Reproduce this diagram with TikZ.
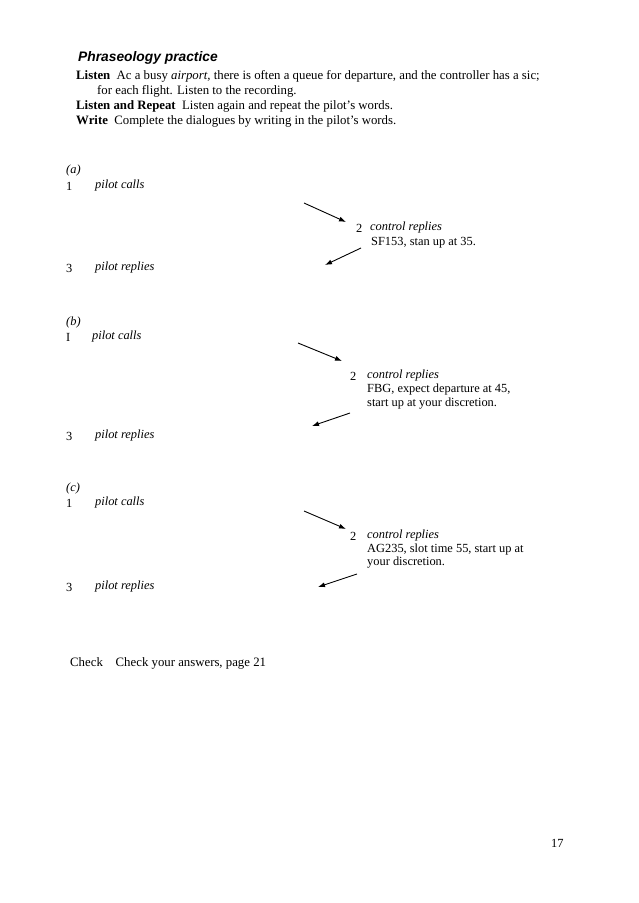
\documentclass[tikz,border=0pt]{standalone}
\usepackage{fontspec}
\usetikzlibrary{arrows.meta}
\setmainfont{Liberation Serif}
\newfontfamily\titlefont{Liberation Sans}
\begin{document}
\begin{tikzpicture}[x=1pt,y=-1pt,
  t/.style={anchor=west,inner sep=0pt,font=\fontsize{12.8}{15}\selectfont},
  s/.style={anchor=west,inner sep=0pt,font=\fontsize{12.4}{15}\selectfont},
  ar/.style={-{Latex[length=7pt,width=5pt]},line width=0.9pt}]
\useasboundingbox (0,0) rectangle (638,903);
\node[anchor=west,inner sep=0pt,font=\titlefont\fontsize{13.8}{16}\selectfont\bfseries\itshape] (title) at (78,58) {Phraseology practice};
\node[t] (l1) at (76,76) {\textbf{Listen}\enspace Ac a busy \textit{airport,} there is often a queue for departure, and the controller has a sic;};
\node[t] (l2) at (97,91) {for each flight. Listen to the recording.};
\node[t] (l3) at (76,106) {\textbf{Listen and Repeat}\enspace Listen again and repeat the pilot's words.};
\node[t] (l4) at (76,121) {\textbf{Write}\enspace Complete the dialogues by writing in the pilot's words.};
% (a)
\node[s] (a) at (66,171) {\textit{(a)}};
\node[s] (a1n) at (66,186) {1};
\node[s] (a1) at (95,186) {\textit{pilot calls}};
\node[s] (a2n) at (356,228) {2};
\node[s] (a2) at (370,228) {\textit{control replies}};
\node[s] (a2b) at (371,243) {SF153, stan up at 35.};
\node[s] (a3n) at (66,268) {3};
\node[s] (a3) at (95,268) {\textit{pilot replies}};
\coordinate (ap1) at (304,203); \coordinate (ap2) at (346,222);
\coordinate (ap3) at (361,248); \coordinate (ap4) at (325,265);
\draw[ar] (ap1) -- (ap2); \draw[ar] (ap3) -- (ap4);
% (b)
\node[s] (b) at (66,323) {\textit{(b)}};
\node[s] (b1n) at (66,337) {I};
\node[s] (b1) at (92,337) {\textit{pilot calls}};
\node[s] (b2n) at (350,376) {2};
\node[s] (b2) at (367,376) {\textit{control replies}};
\node[s] (b2b) at (367,390) {FBG, expect departure at 45,};
\node[s] (b2c) at (367,404) {start up at your discretion.};
\node[s] (b3n) at (66,436) {3};
\node[s] (b3) at (95,436) {\textit{pilot replies}};
\coordinate (bp1) at (298,343); \coordinate (bp2) at (342,361);
\coordinate (bp3) at (350,413); \coordinate (bp4) at (312,426);
\draw[ar] (bp1) -- (bp2); \draw[ar] (bp3) -- (bp4);
% (c)
\node[s] (c) at (66,489) {\textit{(c)}};
\node[s] (c1n) at (66,503) {1};
\node[s] (c1) at (95,503) {\textit{pilot calls}};
\node[s] (c2n) at (350,536) {2};
\node[s] (c2) at (367,536) {\textit{control replies}};
\node[s] (c2b) at (367,550) {AG235, slot time 55, start up at};
\node[s] (c2c) at (367,563) {your discretion.};
\node[s] (c3n) at (66,587) {3};
\node[s] (c3) at (95,587) {\textit{pilot replies}};
\coordinate (cp1) at (304,511); \coordinate (cp2) at (346,529);
\coordinate (cp3) at (357,574); \coordinate (cp4) at (318,587);
\draw[ar] (cp1) -- (cp2); \draw[ar] (cp3) -- (cp4);
\node[t] (chk) at (70,663) {Check\quad Check your answers, page 21};
\node[s] (pg) at (551,843) {17};
\end{tikzpicture}
\end{document}
